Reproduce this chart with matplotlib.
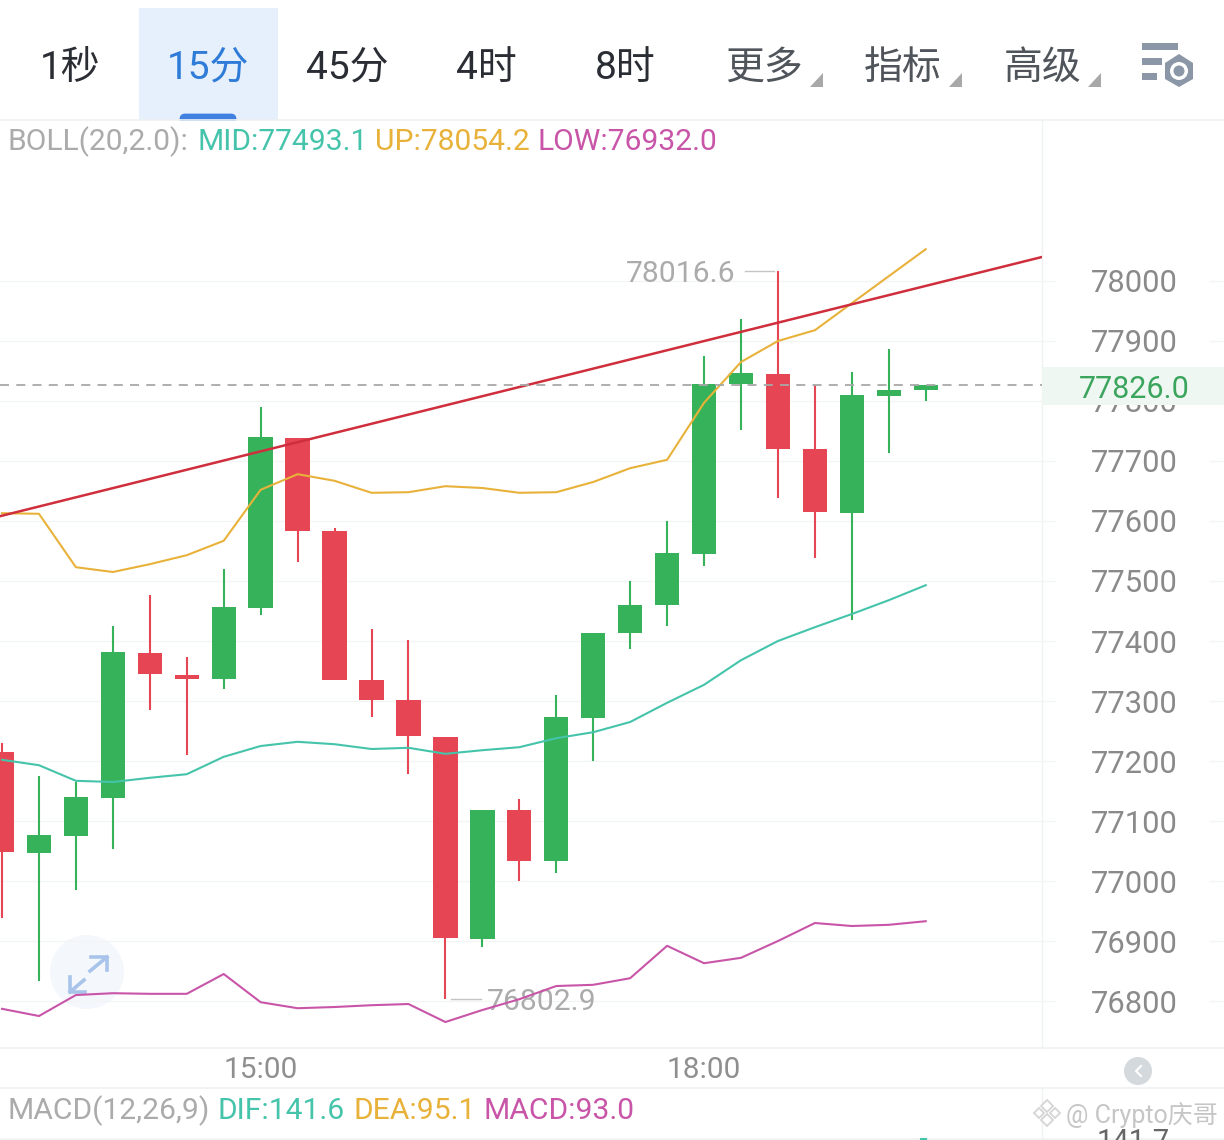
import matplotlib
matplotlib.use("Agg")
import matplotlib.pyplot as plt
from matplotlib.patches import Rectangle, Circle, Polygon, FancyBboxPatch

plt.rcParams['font.family'] = ['Roboto', 'Noto Sans CJK SC', 'DejaVu Sans']

opens = [77215, 77047, 77075, 77138, 77380, 77343, 77337, 77455, 77738, 77583, 77335, 77302, 77240,
         76903, 77118, 77033, 77272, 77413, 77460, 77545, 77828, 77845, 77720, 77613, 77808, 77818]
closes = [77048, 77077, 77140, 77382, 77345, 77337, 77457, 77740, 77583, 77335, 77302, 77242, 76905,
          77118, 77033, 77273, 77413, 77460, 77547, 77828, 77847, 77720, 77615, 77810, 77818, 77826]
highs = [77230, 77175, 77165, 77425, 77477, 77373, 77520, 77790, 77738, 77588, 77420, 77402, 77240,
         77118, 77137, 77310, 77413, 77500, 77600, 77875, 77937, 78016.6, 77827, 77848, 77887, 77826]
lows = [76938, 76833, 76985, 77053, 77285, 77210, 77320, 77443, 77532, 77335, 77273, 77178, 76802.9,
        76890, 77000, 77013, 77200, 77387, 77425, 77525, 77752, 77638, 77538, 77435, 77713, 77800]
boll_up = [77613, 77612, 77523, 77515, 77528, 77543, 77567, 77652, 77678, 77667, 77647, 77648, 77658,
           77655, 77647, 77648, 77665, 77688, 77702, 77797, 77865, 77900, 77918, 77963, 78008, 78053]
boll_mid = [77202, 77193, 77167, 77165, 77172, 77178, 77207, 77225, 77232, 77228, 77220, 77222, 77212,
            77218, 77223, 77238, 77248, 77265, 77297, 77327, 77368, 77400, 77423, 77445, 77468, 77493]
boll_low = [76787, 76775, 76810, 76813, 76812, 76812, 76845, 76798, 76788, 76790, 76793, 76795, 76765,
            76785, 76803, 76825, 76827, 76838, 76892, 76863, 76872, 76900, 76930, 76925, 76927, 76933]
trend_x = [-0.054, 28.146]
trend_y = [77608, 78040]
price_ticks = [76800, 76900, 77000, 77100, 77200, 77300, 77400, 77500, 77600, 77700, 77800, 77900, 78000]
time_ticks = [7, 19]
time_labels = ['15:00', '18:00']
tabs = ['1秒', '15分', '45分', '4时', '8时', '更多', '指标', '高级']
tab_x = [70, 208, 347, 486, 625, 764, 903, 1043]
last_price = 77826.0

RED = '#e64553'
GREEN = '#36b35a'
TEAL = '#45c4ab'
GOLD = '#e8b23a'
PINK = '#c855a8'
GRID = '#f3f5f5'
W, H = 1224, 1140
STEP = 36.95  # px per candle

fig = plt.figure(figsize=(W / 100, H / 100), dpi=100)

# page furniture, in pixels
bg = fig.add_axes([0, 0, 1, 1])
bg.set_xlim(0, W)
bg.set_ylim(H, 0)
bg.axis('off')

# chart area 0..1042 x 120..1048 px
ax = fig.add_axes([0, 1 - 1048 / H, 1042 / W, 928 / H])
ax.patch.set_alpha(0)
ax.set_xlim(-2 / STEP, 1040 / STEP)
ax.set_ylim(76721.7, 78268.3)
for s in ax.spines.values():
    s.set_visible(False)

# gridlines reach slightly past the chart edge
for p in price_ticks:
    ax.plot([-2 / STEP, 1053 / STEP], [p, p], color=GRID, lw=1, clip_on=False, zorder=0)
    ax.plot([1208 / STEP, 1224 / STEP], [p, p], color=GRID, lw=1, clip_on=False, zorder=0)

ax.set_xticks(time_ticks)
ax.set_xticklabels(time_labels)
ax.set_yticks(price_ticks)
ax.yaxis.tick_right()
ax.tick_params(axis='y', length=0, pad=35, labelsize=22.2, labelcolor='#8a8a8a')
ax.tick_params(axis='x', length=0, pad=6, labelsize=21.5, labelcolor='#8f8f8f')

for i in range(len(opens)):
    c = GREEN if closes[i] >= opens[i] else RED
    ax.vlines(i, lows[i], highs[i], color=c, lw=1.5, zorder=2)
    ax.bar(i, abs(closes[i] - opens[i]), bottom=min(opens[i], closes[i]), width=0.66, color=c, zorder=3)

xs = range(len(opens))
ax.plot(xs, boll_up, color=GOLD, lw=1.5, zorder=4)
ax.plot(xs, boll_mid, color=TEAL, lw=1.5, zorder=4)
ax.plot(xs, boll_low, color=PINK, lw=1.5, zorder=4)
ax.plot(trend_x, trend_y, color='#cf2e3c', lw=1.8, zorder=5)
ax.axhline(last_price, color='#a8a8a8', lw=1.3, dashes=(5, 4), zorder=6)

# high / low labels
ax.text(19.84, 78012, '78016.6', ha='right', va='center', fontsize=21.7, color='#ababab')
ax.plot([20.1, 20.9], [78016.6, 78016.6], color='#c4c4c4', lw=1)
ax.text(13.12, 76798, '76802.9', ha='left', va='center', fontsize=21.7, color='#ababab', zorder=3)
ax.plot([12.15, 12.95], [76802.9, 76802.9], color='#c4c4c4', lw=1)

# tab bar
bg.add_patch(Rectangle((139, 8), 139, 112, color='#e5f0fc', lw=0))
bg.add_patch(FancyBboxPatch((181, 115), 54, 10, boxstyle='round,pad=0,rounding_size=4',
                            fc='#3f80e0', ec='#3f80e0', lw=2))
bg.add_patch(Rectangle((0, 120.5), W, 10, color='white', lw=0))
for k, (t, x) in enumerate(zip(tabs, tab_x)):
    c = '#2f7bd8' if k == 1 else ('#2a2d33' if k < 5 else '#50555c')
    bg.text(x, 68, t, ha='center', va='center', fontsize=28, color=c)
for x in [816, 955, 1094]:
    bg.add_patch(Polygon([(x + 7, 73), (x + 7, 87), (x - 6, 87)], color='#a8a8a8', lw=0))

# settings icon
for x0, x1, y0, y1 in [(1142, 1178, 43, 50), (1142, 1162, 58, 65), (1142, 1157, 73, 80)]:
    bg.add_patch(Rectangle((x0, y0), x1 - x0, y1 - y0, color='#8b96a6', lw=0))
bg.add_patch(Polygon([(1179, 54), (1193, 63), (1193, 79), (1179, 87), (1165, 79), (1165, 63)], color='#8b96a6', lw=0))
bg.add_patch(Circle((1179, 71), 9, color='white', lw=0))
bg.add_patch(Circle((1179, 71), 5.5, color='#8b96a6', lw=0))

# separators
for y in [120, 1048, 1088, 1138.5]:
    bg.plot([0, W], [y, y], color='#eff1f2', lw=1.2)
bg.plot([1042, 1042], [120, 1048], color='#eff1f2', lw=1)
bg.plot([1042, 1042], [1088, H], color='#eff1f2', lw=1)

# indicator captions
for s, x, c in [('BOLL(20,2.0):', 7, '#ababab'), ('MID:77493.1', 197, TEAL),
                ('UP:78054.2', 375, GOLD), ('LOW:76932.0', 537, PINK)]:
    bg.text(x, 142, s, ha='left', va='center', fontsize=21.6, color=c)
for s, x, c in [('MACD(12,26,9)', 7, '#ababab'), ('DIF:141.6', 217, TEAL),
                ('DEA:95.1', 353, GOLD), ('MACD:93.0', 483, PINK)]:
    bg.text(x, 1111, s, ha='left', va='center', fontsize=21.6, color=c)

# expand button
bg.add_patch(Circle((87, 972), 37, color='#f4f8fd', lw=0))
for pts in [[(90, 971), (107, 957)], [(91, 957), (107, 957), (107, 970)],
            [(84, 980), (70, 992)], [(70, 977), (70, 992), (85, 992)]]:
    bg.plot(*zip(*pts), color='#a9c4ea', lw=2.6)

# price tag on top of the axis labels
tag = fig.add_axes([0, 0, 1, 1])
tag.set_xlim(0, W)
tag.set_ylim(H, 0)
tag.axis('off')
tag.add_patch(Rectangle((1042, 367), W - 1042, 38, color='#eff7f2', lw=0))
tag.text(1134, 389, '77826.0', ha='center', va='center', fontsize=22, color='#3ba55d')

# scroll button, cut-off macd label, watermark
tag.add_patch(Circle((1138, 1071), 14, color='#d4d9de', lw=0))
tag.plot([1141, 1136, 1141], [1066, 1071, 1076], color='white', lw=1.5)
tag.text(1133, 1150, '141.7', ha='center', va='baseline', fontsize=21, color='#666666')
tag.plot([921, 926], [1139, 1139], color=TEAL, lw=1.5)
for cx, cy, r in [(1047, 1106, 6), (1047, 1120, 6), (1039, 1113, 5), (1055, 1113, 5)]:
    tag.add_patch(Polygon([(cx, cy - r), (cx + r, cy), (cx, cy + r), (cx - r, cy)],
                          fc='white', ec='#d5d5d5', lw=1.3))
tag.text(1066, 1115, '@ Crypto庆哥', ha='left', va='center', fontsize=18, color='#c6c6c6')

fig.savefig('out.png', dpi=100)
